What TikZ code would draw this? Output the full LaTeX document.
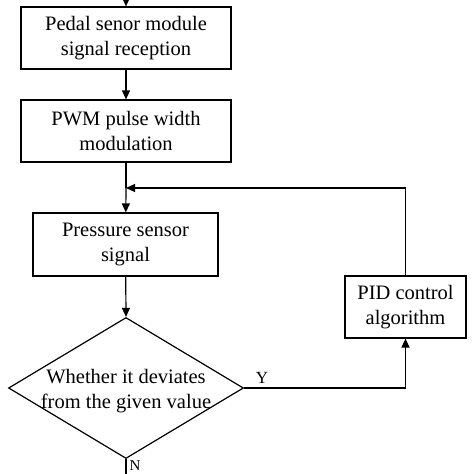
\documentclass[tikz,border=0pt]{standalone}
\usepackage{fontspec}
\setmainfont{Liberation Serif}
\usetikzlibrary{shapes.geometric,arrows.meta}
\begin{document}
\begin{tikzpicture}[x=1pt,y=-1pt,
  every node/.style={font=\fontsize{20.5}{25}\selectfont},
  box/.style={draw,line width=1.2pt,rectangle,inner sep=0pt,align=center},
  line/.style={line width=1.2pt},
  arr/.style={line width=1.2pt,-{Triangle[length=9pt,width=8pt]}},
  lbl/.style={font=\fontsize{17}{20}\selectfont,inner sep=0pt}]
\useasboundingbox (0,0) rectangle (474,474);
\coordinate (top) at (126,0);
\node[box,minimum width=210pt,minimum height=62pt] (b1) at (126,38) {Pedal senor module\\signal reception};
\node[box,minimum width=210pt,minimum height=62pt] (b2) at (126,131) {PWM pulse width\\modulation};
\coordinate (m) at (126,188);
\node[box,minimum width=185pt,minimum height=63pt] (b3) at (125.5,244.5) {Pressure sensor\\signal};
\node[diamond,draw,line width=1.2pt,aspect=1.67,minimum width=235pt,minimum height=141pt,inner sep=0pt] (d) at (126,388) {};
\node[align=center,inner sep=0pt] (dt) at (126,391) {Whether it deviates\\from the given value};
\node[box,minimum width=121pt,minimum height=62pt] (pid) at (405.5,307) {PID control\\algorithm};
\coordinate (bot) at (126,474);
\draw[arr] (top) -- (b1);
\draw[arr] (b1) -- (b2);
\draw[line] (b2) -- (m);
\draw[arr] (m) -- (b3);
\draw[arr] (b3) -- (d.north);
\draw[arr] (d.east) -| (pid.south);
\draw[arr] (pid.north) |- (m);
\draw[line] (d.south) -- (bot);
\node[lbl] (y) at (262,378) {Y};
\node[lbl,font=\fontsize{15}{18}\selectfont] (n) at (135,466) {N};
\end{tikzpicture}
\end{document}
